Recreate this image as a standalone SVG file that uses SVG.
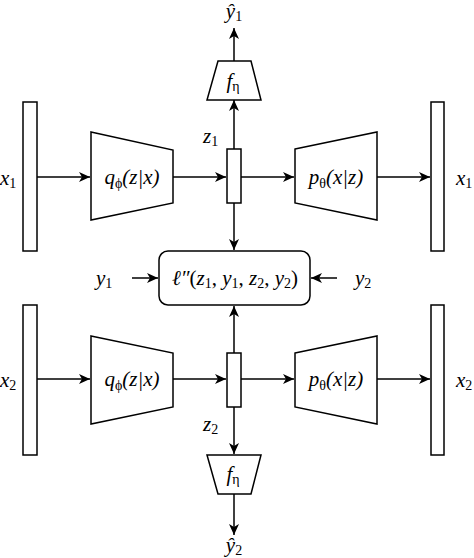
<svg xmlns="http://www.w3.org/2000/svg" width="474" height="558" viewBox="0 0 474 558" font-family="'Liberation Serif', 'DejaVu Serif', serif">
<style>
.s{fill:#fff;stroke:#000;stroke-width:1.5}
.c{fill:none;stroke:#000;stroke-width:1.5}
text{font-size:21px;fill:#000}
.i{font-style:italic}
.m{text-anchor:middle}
.sub{font-size:14px;font-style:normal}
</style>
<defs>
<marker id="a" markerWidth="12" markerHeight="10" refX="11" refY="5" orient="auto" markerUnits="userSpaceOnUse">
<path d="M0,0 L11,5 L0,10 L3,5 Z" fill="#000"/>
</marker>
</defs>
<g id="connectors">
<path class="c" d="M37,177 H90" marker-end="url(#a)"/>
<path class="c" d="M173,177 H226" marker-end="url(#a)"/>
<path class="c" d="M241,177 H294" marker-end="url(#a)"/>
<path class="c" d="M377,177 H430" marker-end="url(#a)"/>
<path class="c" d="M234,149 V100" marker-end="url(#a)"/>
<path class="c" d="M234,61 V28" marker-end="url(#a)"/>
<path class="c" d="M234,203 V250" marker-end="url(#a)"/>
<path class="c" d="M132,278 H158" marker-end="url(#a)"/>
<path class="c" d="M337,278 H311" marker-end="url(#a)"/>
<path class="c" d="M37,379 H90" marker-end="url(#a)"/>
<path class="c" d="M173,379 H226" marker-end="url(#a)"/>
<path class="c" d="M241,379 H294" marker-end="url(#a)"/>
<path class="c" d="M377,379 H430" marker-end="url(#a)"/>
<path class="c" d="M234,353 V306" marker-end="url(#a)"/>
<path class="c" d="M234,407 V454" marker-end="url(#a)"/>
<path class="c" d="M234,494 V535" marker-end="url(#a)"/>
</g>
<g id="x1-in">
<rect class="s" x="23" y="102" width="14" height="149"/>
<text class="i" x="0" y="185">x<tspan class="sub" dy="3">1</tspan></text>
</g>
<g id="enc1">
<path class="s" d="M91,132 L173,150 L173,203 L91,220 Z"/>
<text class="i m" x="132" y="184">q<tspan class="sub i" dy="4">ϕ</tspan><tspan dy="-4">(z|x)</tspan></text>
</g>
<g id="z1">
<rect class="s" x="227" y="149" width="14" height="54"/>
<text class="i" x="203" y="143">z<tspan class="sub" dy="3">1</tspan></text>
</g>
<g id="dec1">
<path class="s" d="M295,149 L377,132 L377,220 L295,203 Z"/>
<text class="i m" x="336" y="184">p<tspan class="sub i" dy="4">θ</tspan><tspan dy="-4">(x|z)</tspan></text>
</g>
<g id="x1-out">
<rect class="s" x="431" y="102" width="13" height="149"/>
<text class="i" x="456" y="185">x<tspan class="sub" dy="3">1</tspan></text>
</g>
<g id="f1">
<path class="s" d="M218,61 L251,61 L261,100 L207,100 Z"/>
<text class="i m" x="233" y="88">f<tspan class="sub i" dy="3">η</tspan></text>
</g>
<g id="yhat1">
<text class="i m" x="234" y="18">ŷ<tspan class="sub" dy="3">1</tspan></text>
</g>
<g id="loss">
<rect class="s" x="159" y="251" width="151" height="54" rx="9"/>
<text class="m" x="235" y="285"><tspan class="i">ℓ″</tspan>(<tspan class="i">z</tspan><tspan class="sub" dy="3">1</tspan><tspan dy="-3">, </tspan><tspan class="i">y</tspan><tspan class="sub" dy="3">1</tspan><tspan dy="-3">, </tspan><tspan class="i">z</tspan><tspan class="sub" dy="3">2</tspan><tspan dy="-3">, </tspan><tspan class="i">y</tspan><tspan class="sub" dy="3">2</tspan><tspan dy="-3">)</tspan></text>
</g>
<g id="y1">
<text class="i" x="96" y="285">y<tspan class="sub" dy="3">1</tspan></text>
</g>
<g id="y2">
<text class="i" x="355" y="285">y<tspan class="sub" dy="3">2</tspan></text>
</g>
<g id="x2-in">
<rect class="s" x="23" y="305" width="14" height="150"/>
<text class="i" x="0" y="387">x<tspan class="sub" dy="3">2</tspan></text>
</g>
<g id="enc2">
<path class="s" d="M91,336 L173,353 L173,407 L91,424 Z"/>
<text class="i m" x="132" y="386">q<tspan class="sub i" dy="4">ϕ</tspan><tspan dy="-4">(z|x)</tspan></text>
</g>
<g id="z2">
<rect class="s" x="227" y="353" width="14" height="54"/>
<text class="i" x="203" y="431">z<tspan class="sub" dy="3">2</tspan></text>
</g>
<g id="dec2">
<path class="s" d="M295,353 L377,336 L377,424 L295,407 Z"/>
<text class="i m" x="336" y="386">p<tspan class="sub i" dy="4">θ</tspan><tspan dy="-4">(x|z)</tspan></text>
</g>
<g id="x2-out">
<rect class="s" x="431" y="305" width="13" height="150"/>
<text class="i" x="456" y="387">x<tspan class="sub" dy="3">2</tspan></text>
</g>
<g id="f2">
<path class="s" d="M207,455 L261,455 L251,494 L218,494 Z"/>
<text class="i m" x="233" y="481">f<tspan class="sub i" dy="3">η</tspan></text>
</g>
<g id="yhat2">
<text class="i m" x="234" y="552">ŷ<tspan class="sub" dy="3">2</tspan></text>
</g>
</svg>
